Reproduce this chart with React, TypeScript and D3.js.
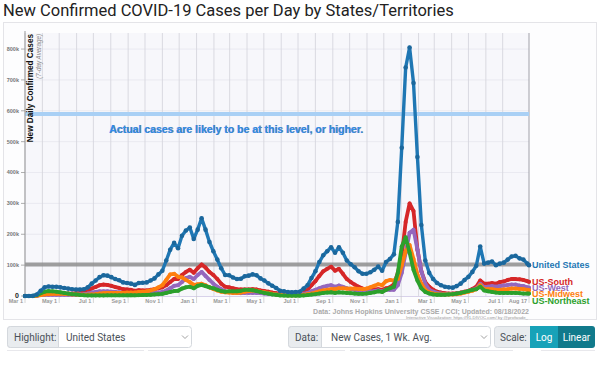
import React from 'react';
import * as d3 from 'd3';

// weekly samples, Mar 1 2020 .. Aug 14 2022, plus the last reported day
const START = new Date(2020, 2, 1);
const END = new Date(2022, 7, 17);
const dates: Date[] = [...d3.timeDay.range(START, new Date(2022, 7, 15), 7), END];

// new cases, 7-day average, in thousands
const usCases = [
  0, 0.1, 0.5, 5, 17, 28, 31, 30, 30, 28,
  26, 24, 22, 21, 21, 22, 28, 40, 50, 61,
  67, 66, 61, 55, 51, 44, 42, 40, 36, 42,
  43, 44, 50, 57, 70, 82, 115, 150, 172, 155,
  195, 212, 222, 185, 215, 252, 215, 175, 145, 118,
  90, 68, 67, 60, 55, 56, 64, 66, 70, 67,
  57, 50, 41, 33, 26, 17, 15, 13, 12, 13,
  14, 24, 35, 58, 80, 110, 132, 145, 158, 140,
  158, 140, 115, 103, 93, 80, 72, 72, 77, 85,
  95, 82, 110, 120, 135, 240, 480, 740, 805, 690,
  450, 230, 115, 75, 55, 42, 35, 30, 28, 27,
  32, 40, 52, 62, 78, 98, 160, 105, 108, 112,
  100, 105, 108, 118, 128, 130, 122, 118, 105, 100,
];
const southCases = [
  0, 0, 0.1, 1, 4, 7, 8, 8, 8, 8,
  8, 8, 8, 9, 10, 12, 17, 24, 29, 35,
  37, 36, 33, 29, 26, 22, 21, 20, 17, 19,
  18, 18, 20, 22, 25, 28, 35, 45, 55, 55,
  68, 78, 85, 75, 90, 102, 92, 78, 68, 55,
  40, 30, 28, 25, 22, 21, 21, 21, 22, 21,
  18, 16, 14, 11, 9, 6, 6, 5, 5, 6,
  7, 13, 20, 35, 48, 65, 80, 88, 95, 82,
  88, 72, 55, 45, 37, 30, 24, 22, 20, 21,
  22, 20, 25, 28, 38, 75, 130, 240, 300, 275,
  150, 80, 45, 30, 20, 14, 11, 9, 8, 8,
  9, 11, 14, 17, 23, 30, 50, 40, 40, 42,
  40, 45, 47, 52, 55, 55, 54, 52, 48, 46,
];
const westCases = [
  0, 0, 0.1, 1, 3, 4, 4, 4, 4, 4,
  4, 4, 4, 4, 5, 6, 8, 11, 13, 15,
  15, 15, 14, 13, 12, 10, 9, 8, 8, 8,
  8, 8, 9, 10, 11, 13, 18, 25, 33, 35,
  45, 58, 62, 55, 68, 78, 65, 52, 40, 30,
  22, 15, 13, 11, 10, 9, 10, 10, 10, 10,
  9, 8, 7, 6, 5, 4, 4, 3.5, 3.5, 4,
  5, 7, 10, 15, 20, 25, 30, 33, 35, 30,
  34, 30, 25, 22, 20, 17, 16, 15, 15, 16,
  18, 15, 20, 20, 20, 35, 75, 140, 205, 215,
  150, 80, 40, 20, 14, 10, 8, 7, 7, 7,
  8, 10, 13, 16, 20, 24, 40, 28, 30, 32,
  30, 32, 34, 36, 37, 37, 34, 32, 28, 27,
];
const midwestCases = [
  0, 0, 0.1, 1, 3, 5, 6, 7, 7, 7,
  7, 6, 5, 5, 4, 4, 4, 5, 6, 8,
  9, 10, 10, 10, 10, 10, 11, 11, 11, 13,
  14, 15, 18, 22, 28, 35, 52, 70, 72, 62,
  60, 52, 45, 36, 38, 40, 35, 28, 23, 18,
  14, 12, 11, 10, 10, 11, 14, 16, 18, 17,
  14, 12, 10, 7, 5, 3, 3, 2.5, 2.5, 2.5,
  3, 4, 6, 8, 11, 15, 18, 20, 22, 22,
  25, 25, 24, 24, 24, 23, 22, 24, 28, 33,
  38, 35, 48, 52, 50, 55, 100, 145, 165, 120,
  70, 40, 20, 12, 8, 6, 5, 5, 5, 5,
  6, 8, 11, 14, 17, 22, 35, 22, 22, 22,
  20, 20, 21, 22, 24, 24, 23, 22, 20, 19,
];
const northeastCases = [
  0, 0, 0.3, 3, 9, 14, 16, 15, 14, 12,
  10, 8, 6, 5, 3.5, 2.5, 2, 2, 2, 2,
  2, 2.2, 2.2, 2.2, 2.2, 2.2, 2.3, 2.4, 2.3, 2.8,
  3, 3.5, 4, 5, 6, 7, 10, 13, 16, 17,
  24, 28, 30, 25, 33, 36, 32, 28, 25, 20,
  16, 14, 15, 15, 15, 17, 20, 20, 19, 16,
  13, 10, 8, 5, 4, 2, 1.5, 1.2, 1, 1,
  1.2, 2, 3, 4.5, 6, 8, 10, 11, 12, 10,
  12, 11, 10, 9, 8, 7, 7, 8, 10, 12,
  15, 13, 20, 25, 30, 75, 160, 190, 140, 85,
  50, 25, 13, 8, 5, 4, 4, 4, 5, 6,
  8, 10, 13, 16, 20, 22, 30, 18, 15, 13,
  11, 10, 10, 10, 10, 10, 9, 8, 8, 8,
];

const seriesNames = ['US-South', 'US-West', 'US-Midwest', 'US-Northeast', 'United States'];
const seriesColors = ['#d62728', '#9467bd', '#ff7f0e', '#2ca02c', '#1f77b4'];
const seriesValues = [southCases, westCases, midwestCases, northeastCases, usCases];

const yTicks = [0, 100, 200, 300, 400, 500, 600, 700, 800];
const likelyLevel = 590; // "actual cases" band
const currentLevel = 102; // gray band at the latest US value

const W = 600;
const H = 388;
const plot = { left: 25, right: 529, top: 33, bottom: 296 };
const sans = 'Roboto, "Liberation Sans", Arial, sans-serif';
const arial = '"Liberation Sans", Arial, sans-serif';

const x = d3.scaleTime().domain([START, END]).range([plot.left, plot.right]);
const y = d3.scaleLinear().domain([0, 852]).range([plot.bottom, plot.top]);

const line = d3
  .line<number>()
  .x((_, i) => x(dates[i]))
  .y((d) => y(d));

const fmtTick = d3.timeFormat('%b %-d');

const Chevron = ({ cx, cy }: { cx: number; cy: number }) => (
  <path d={`M${cx - 3},${cy - 1.5} L${cx},${cy + 1.5} L${cx + 3},${cy - 1.5}`} fill="none" stroke="#888" strokeWidth={0.8} />
);

const App = () => {
  const gridMonths = d3.timeMonth.range(START, new Date(2022, 6, 2));
  const labelTicks = [...d3.timeMonth.every(2)!.range(START, new Date(2022, 6, 2)), END];

  // right-hand labels, pushed apart so they do not overlap
  const order = [4, 0, 1, 2, 3];
  let last = -Infinity;
  const labelY: Record<number, number> = {};
  order.forEach((k, j) => {
    const vals = seriesValues[k];
    let ly = y(vals[vals.length - 1]);
    if (j > 0) ly = Math.max(ly, last + 6.2);
    labelY[k] = ly;
    last = ly;
  });

  return (
    <div style={{ position: 'absolute', left: 0, top: 0 }}>
      <svg width={W} height={H} style={{ display: 'block', background: '#fff' }}>
        <text x={3} y={16} fontFamily={sans} fontSize={16.5} fill="#222">
          New Confirmed COVID-19 Cases per Day by States/Territories
        </text>

        {/* card */}
        <rect x={3.5} y={22.5} width={593} height={297} fill="#fdfdfe" stroke="#e4e4e8" />

        {/* plot background */}
        <rect x={plot.left} y={plot.top} width={plot.right - plot.left} height={plot.bottom - plot.top} fill="#f7f7fb" />

        {/* horizontal grid */}
        {yTicks.slice(1).map((t) => (
          <line key={'hg' + t} x1={plot.left} x2={plot.right} y1={y(t)} y2={y(t)} stroke="#e6e6ee" strokeWidth={0.8} />
        ))}
        {/* vertical grid, monthly */}
        {gridMonths.map((d) => (
          <line key={'vg' + +d} x1={x(d)} x2={x(d)} y1={plot.top} y2={plot.bottom} stroke="#d6d6de" strokeWidth={0.9} />
        ))}
        <line x1={plot.right} x2={plot.right} y1={plot.top} y2={plot.bottom} stroke="#a0a0a8" strokeWidth={1} />

        {/* reference bands */}
        <line x1={plot.left} x2={plot.right} y1={y(likelyLevel)} y2={y(likelyLevel)} stroke="#a9d0f5" strokeWidth={4} />
        <line x1={plot.left} x2={plot.right} y1={y(currentLevel)} y2={y(currentLevel)} stroke="#8e8e8e" strokeOpacity={0.85} strokeWidth={4} />

        {/* axes */}
        <line x1={plot.left} x2={plot.left} y1={plot.top - 2} y2={plot.bottom} stroke="#999" strokeWidth={1} />
        <line x1={plot.left} x2={plot.right} y1={plot.bottom + 0.5} y2={plot.bottom + 0.5} stroke="#d8d2ea" strokeWidth={1} />
        {yTicks.map((t) => (
          <g key={'yt' + t}>
            <line x1={plot.left - 4} x2={plot.left} y1={y(t)} y2={y(t)} stroke="#999" strokeWidth={0.8} />
            <text
              x={plot.left - 6}
              y={y(t)}
              dy="0.35em"
              textAnchor="end"
              fontFamily={arial}
              fontWeight={t === 0 ? 700 : 600}
              fontSize={t === 0 ? 7 : 5.5}
              fill={t === 0 ? '#222' : '#777'}
            >
              {t === 0 ? '0' : `${t}k`}
            </text>
          </g>
        ))}
        {labelTicks.map((d) => (
          <g key={'xt' + +d}>
            <line x1={x(d)} x2={x(d)} y1={plot.bottom} y2={plot.bottom + 7} stroke="#ccc" strokeWidth={0.8} />
            <text x={x(d) - 2} y={plot.bottom + 6.5} textAnchor="end" fontFamily={arial} fontWeight={600} fontSize={5.5} fill="#999">
              {fmtTick(d)}
            </text>
          </g>
        ))}

        {/* y axis title */}
        <text transform={`translate(33,${plot.top + 1}) rotate(-90)`} textAnchor="end" fontFamily={arial} fontWeight={700} fontSize={8.2} fill="#111">
          New Daily Confirmed Cases
        </text>
        <text transform={`translate(41,${plot.top + 1}) rotate(-90)`} textAnchor="end" fontFamily={arial} fontStyle="italic" fontSize={6.3} fill="#888">
          (7-day Average)
        </text>

        {/* series */}
        {seriesValues.map((vals, k) => {
          const c = seriesColors[k];
          const dot = d3.color(c)!.darker(0.4).toString();
          const hl = k === 4;
          return (
            <g key={seriesNames[k]}>
              <path d={line(vals) || ''} fill="none" stroke={c} strokeWidth={hl ? 3.4 : 3.8} strokeLinejoin="round" strokeLinecap="round" />
              {vals.map((v, i) => (
                <circle key={i} cx={x(dates[i])} cy={y(v)} r={hl ? 2.3 : 2} fill={hl ? dot : c} />
              ))}
            </g>
          );
        })}

        {/* annotation */}
        <text x={109.8} y={133.3} fontFamily={arial} fontWeight={700} fontSize={10.5} fill="rgba(0,0,0,0.45)">
          Actual cases are likely to be at this level, or higher.
        </text>
        <text x={109} y={132.5} fontFamily={arial} fontWeight={700} fontSize={10.5} fill="#2f8ef0">
          Actual cases are likely to be at this level, or higher.
        </text>

        {/* end labels */}
        {seriesValues.map((_, k) => (
          <text key={'lb' + k} x={plot.right + 3} y={labelY[k]} dy="0.35em" fontFamily={arial} fontWeight={700} fontSize={9} fill={seriesColors[k]}>
            {seriesNames[k]}
          </text>
        ))}

        {/* source */}
        <text x={529} y={313.5} textAnchor="end" fontFamily={arial} fontWeight={700} fontSize={7} fill="#aaa">
          Data: Johns Hopkins University CSSE / CCI; Updated: 08/18/2022
        </text>
        <text x={528} y={319} textAnchor="end" fontFamily={arial} fontSize={4.3} fill="#999">
          Interactive Visualization: https://91-DIVOC.com/ by @profwade_
        </text>

        {/* controls */}
        <g fontFamily={sans} fontSize={10}>
          <rect x={7.5} y={326.5} width={184} height={21} rx={3} fill="#fff" stroke="#d4d8dd" />
          <path d="M10.5,326.5 H58.5 V347.5 H10.5 A3,3 0 0 1 7.5,344.5 V329.5 A3,3 0 0 1 10.5,326.5 Z" fill="#e9ecef" stroke="#d4d8dd" />
          <text x={14} y={340.5} fill="#495057">Highlight:</text>
          <text x={66} y={340.5} fill="#495057">United States</text>
          <Chevron cx={185} cy={337} />

          <rect x={288.5} y={326.5} width={202} height={21} rx={3} fill="#fff" stroke="#d4d8dd" />
          <path d="M291.5,326.5 H321.5 V347.5 H291.5 A3,3 0 0 1 288.5,344.5 V329.5 A3,3 0 0 1 291.5,326.5 Z" fill="#e9ecef" stroke="#d4d8dd" />
          <text x={295} y={340.5} fill="#495057">Data:</text>
          <text x={331} y={340.5} fill="#495057">New Cases, 1 Wk. Avg.</text>
          <Chevron cx={484} cy={337} />

          <path d="M497.5,326.5 H530.5 V347.5 H497.5 A3,3 0 0 1 494.5,344.5 V329.5 A3,3 0 0 1 497.5,326.5 Z" fill="#e9ecef" stroke="#d4d8dd" />
          <text x={500} y={340.5} fill="#495057">Scale:</text>
          <rect x={530} y={326} width={28} height={22} fill="#17a2b8" />
          <path d="M558,326 H592 A3,3 0 0 1 595,329 V345 A3,3 0 0 1 592,348 H558 Z" fill="#117a8b" />
          <text x={544} y={340.5} textAnchor="middle" fill="#fff">Log</text>
          <text x={576.5} y={340.5} textAnchor="middle" fill="#fff">Linear</text>

          {[[7, 144], [148, 345], [350, 513], [541, 595]].map(([a, b]) => (
            <line key={'r2' + a} x1={a} x2={b} y1={350.5} y2={350.5} stroke="#e8e8ec" />
          ))}
        </g>
      </svg>
    </div>
  );
};

export default App;
